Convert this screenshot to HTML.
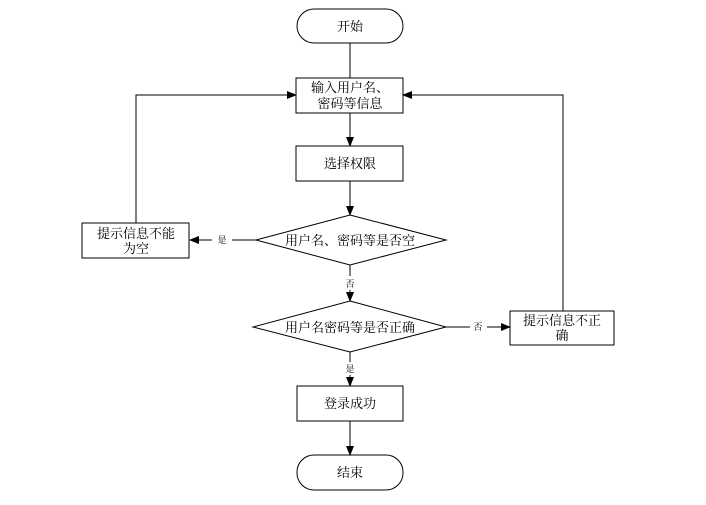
<!DOCTYPE html>
<html><head><meta charset="utf-8"><style>
body{margin:0;background:#fff}
svg text{font-family:"Liberation Serif","Noto Serif CJK SC","Noto Sans CJK SC",serif;fill:#000}
</style></head><body>
<svg width="706" height="500" viewBox="0 0 706 500" xmlns="http://www.w3.org/2000/svg">
<defs><marker id="a" markerWidth="10" markerHeight="8" refX="9" refY="4" orient="auto" markerUnits="userSpaceOnUse"><path d="M0,0 L10,4 L0,8 z" fill="#000"/></marker></defs>
<g fill="none" stroke="#000" stroke-width="1">
<rect x="297" y="9" width="106" height="34" rx="17"/>
<rect x="296" y="78" width="107" height="35"/>
<rect x="296" y="146" width="107" height="35"/>
<polygon points="350,215 446,240 350,265 256,240"/>
<rect x="82" y="223" width="107" height="35"/>
<polygon points="350,301 446,327 350,352 253,327"/>
<rect x="510" y="311" width="104" height="34"/>
<rect x="297" y="386" width="106" height="35"/>
<rect x="297" y="455" width="106" height="35" rx="17"/>
<line x1="350" y1="43" x2="350" y2="78"/>
<line x1="350" y1="113" x2="350" y2="146" marker-end="url(#a)"/>
<line x1="350" y1="181" x2="350" y2="215" marker-end="url(#a)"/>
<line x1="256" y1="240" x2="232" y2="240"/>
<line x1="212" y1="240" x2="190" y2="240" marker-end="url(#a)"/>
<polyline points="136,223 136,95 296,95" marker-end="url(#a)"/>
<line x1="350" y1="265" x2="350" y2="276"/>
<line x1="350" y1="290" x2="350" y2="301" marker-end="url(#a)"/>
<line x1="446" y1="327" x2="470" y2="327"/>
<line x1="487" y1="327" x2="510" y2="327" marker-end="url(#a)"/>
<polyline points="563,311 563,95 403,95" marker-end="url(#a)"/>
<line x1="350" y1="352" x2="350" y2="362"/>
<line x1="350" y1="375" x2="350" y2="386" marker-end="url(#a)"/>
<line x1="350" y1="421" x2="350" y2="455" marker-end="url(#a)"/>
</g>
<g font-size="13" text-anchor="middle">
<text x="350" y="31">开始</text>
<text x="350" y="92">输入用户名、</text>
<text x="350" y="108">密码等信息</text>
<text x="350" y="168">选择权限</text>
<text x="350" y="245">用户名、密码等是否空</text>
<text x="136" y="238">提示信息不能</text>
<text x="136" y="253">为空</text>
<text x="350" y="332">用户名密码等是否正确</text>
<text x="562" y="325">提示信息不正</text>
<text x="562" y="340">确</text>
<text x="350" y="408">登录成功</text>
<text x="350" y="477">结束</text>
</g>
<g font-size="9" text-anchor="middle">
<text x="222" y="243">是</text>
<text x="350" y="287">否</text>
<text x="478" y="330">否</text>
<text x="350" y="372">是</text>
</g>
</svg>
</body></html>
